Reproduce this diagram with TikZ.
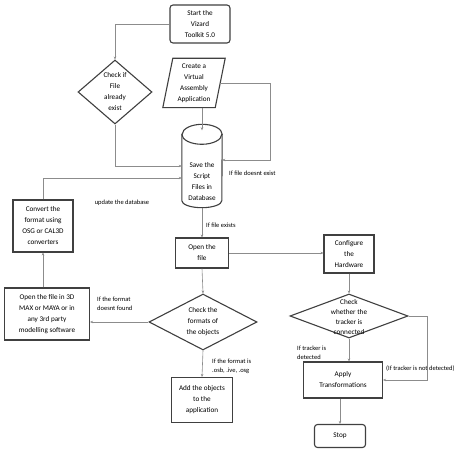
\documentclass[tikz,border=0pt]{standalone}
\usepackage{fontspec}
\setmainfont{Carlito}
\usetikzlibrary{shapes.geometric,arrows.meta}
\begin{document}
\begin{tikzpicture}[x=1pt,y=1pt,
 box/.style={draw=black!75, line width=1.1pt, inner sep=0pt, fill=white},
 txt/.style={font=\fontsize{7.2}{11}\selectfont, align=center, inner sep=0pt},
 lab/.style={font=\fontsize{6.5}{9}\selectfont, align=left, inner sep=0pt},
 con/.style={draw=black!45, line width=0.6pt, -{Stealth[length=3pt,width=2.5pt]}},
 ]
\useasboundingbox (0,0) rectangle (474,450);
\coordinate (lp) at (270,0);
\coordinate (lp2) at (427,0);
% nodes
\node[box, rounded corners=3pt, minimum width=60pt, minimum height=38pt, txt] (start) at (200,426) {Start the\\Vizard\\Toolkit 5.0};
\node[box, diamond, minimum width=74pt, minimum height=64pt] (check) at (115,358) {};
\node[txt] (checkt) at (check) {Check if\\File\\already\\exist};
\node[minimum width=62pt, minimum height=49pt, inner sep=0pt] (create) at (194,367) {};
\draw[box] ([xshift=10pt]create.north west) -- (create.north east) -- ([xshift=-10pt]create.south east) -- (create.south west) -- cycle;
\node[txt] (createt) at (create) {Create a\\Virtual\\Assembly\\Application};
\node[minimum width=40pt, minimum height=83pt, inner sep=0pt] (cyl) at (202,284) {};
\draw[box] ([yshift=-10pt]cyl.north west) -- ([yshift=7pt]cyl.south west)
  arc[start angle=180, end angle=360, x radius=20pt, y radius=7pt]
  -- ([yshift=-10pt]cyl.north east)
  arc[start angle=0, end angle=180, x radius=20pt, y radius=10pt] -- cycle;
\draw[box, fill=none] ([yshift=-10pt]cyl.north west) arc[start angle=180, end angle=360, x radius=20pt, y radius=10pt];
\node[txt] (cylt) at (202,268) {Save the\\Script\\Files in\\Database};
\node[box, txt, minimum width=60pt, minimum height=52pt] (convert) at (43,224) {Convert the\\format using\\OSG or CAL3D\\converters};
\node[box, txt, minimum width=53pt, minimum height=30pt] (openfile) at (202,197) {Open the\\file};
\node[box, txt, minimum width=50pt, minimum height=38pt] (configure) at (349,196) {Configure\\the\\Hardware};
\node[box, txt, minimum width=85pt, minimum height=52pt] (open3d) at (47,136) {Open the file in 3D\\MAX or MAYA or in\\any 3rd party\\modelling software};
\node[box, diamond, minimum width=108pt, minimum height=56pt] (format) at (203,128) {};
\node[txt] (formatt) at (format) {Check the\\formats of\\the objects};
\node[box, diamond, minimum width=118pt, minimum height=44pt] (tracker) at (349,134) {};
\node[txt, font=\fontsize{7.2}{10}\selectfont] (trackert) at (349,133) {Check\\whether the\\tracker is\\connected};
\node[box, txt, minimum width=61pt, minimum height=45pt] (add) at (202,50) {Add the objects\\to the\\application};
\node[box, txt, minimum width=79pt, minimum height=36pt] (apply) at (343,70) {Apply\\Transformations};
\node[box, txt, rounded corners=3pt, minimum width=51pt, minimum height=23pt] (stop) at (340,14) {Stop};
% connectors
\draw[con] (start.west) -| (check.north);
\draw[con] (check.south) |- (cyl.west);
\draw[con] (convert.north) |- ([yshift=-12pt]cyl.west);
\draw[con] (cyl.north |- create.south) -- ([yshift=-6pt]cyl.north);
\draw[con] ([xshift=-5pt]create.east) -- (create.east -| lp) |- ([yshift=6pt]cyl.east);
\draw[con] (cyl.south) -- (openfile.north);
\draw[con] (openfile.east) -- (openfile.east -| configure.west);
\draw[con] (openfile.south) -- (format.north);
\draw[con] (format.west) -- (format.west -| open3d.east);
\draw[con] (convert.south |- open3d.north) -- (convert.south);
\draw[con] (format.south) -- (add.north);
\draw[con] (configure.south) -- (tracker.north);
\draw[con] (tracker.south) -- (tracker.south |- apply.north);
\draw[con] (tracker.east) -- (tracker.east -| lp2) |- (apply.east);
\draw[con] (stop.north |- apply.south) -- (stop.north);
% labels
\node[lab, anchor=west] (l1) at (229,277) {If file doesnt exist};
\node[lab] (l2) at (122,247) {update the database};
\node[lab, anchor=west] (l3) at (206,225) {If file exists};
\node[lab, anchor=west] (l4) at (97,146) {If the format\\doesnt found};
\node[lab, anchor=west] (l5) at (212,84) {If the format is\\.osb, .ive, .osg};
\node[lab, anchor=west] (l6) at (297,97) {If tracker is\\detected};
\node[lab, anchor=west] (l7) at (386,81) {(If tracker is not detected)};
\end{tikzpicture}
\end{document}
